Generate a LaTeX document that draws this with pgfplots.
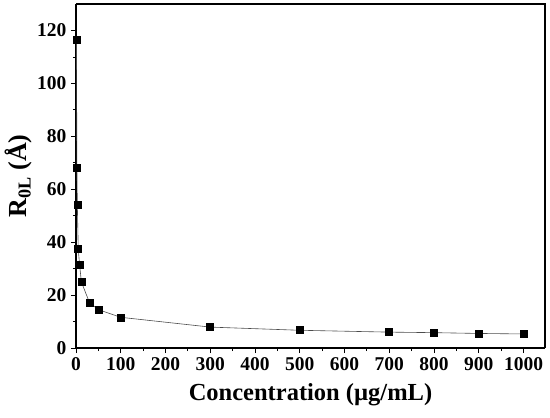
\documentclass[border=0pt]{standalone}
\usepackage{pgfplots}
\pgfplotsset{compat=1.18}
\usepackage{fontspec}
\setmainfont{Liberation Serif}
\newcommand\tickfont{\fontsize{19.5}{19.5}\selectfont\bfseries}
\begin{document}
\begin{tikzpicture}
\begin{axis}[
  scale only axis,
  width=469pt, height=344pt,
  xmin=0, xmax=1048, ymin=0, ymax=130,
  xtick={0,100,...,1000}, ytick={0,20,...,120},
  minor x tick num=1, minor y tick num=1,
  axis x line*=bottom, axis y line*=left,
  tick align=outside,
  major tick length=5pt, minor tick length=3pt,
  tick style={black, line width=0.8pt},
  axis line style={line width=1.2pt},
  xticklabel={\tickfont\pgfmathprintnumber[assume math mode=true,1000 sep={}]{\tick}},
  yticklabel={\tickfont\pgfmathprintnumber[assume math mode=true]{\tick}},
  xticklabel style={yshift=-1pt},
  yticklabel style={xshift=-1pt},
  xlabel={Concentration (µg/mL)},
  ylabel={R$_{\mathbf{0L}}$ (Å)},
  xlabel style={font=\fontsize{24.5}{24.5}\selectfont\bfseries, yshift=-6pt},
  ylabel style={font=\fontsize{26}{26}\selectfont\bfseries, yshift=-2pt},
  clip=false,
]
\addplot[gray!60!black, line width=0.6pt, mark=square*, mark size=3.5pt,
  mark options={black, fill=black}] coordinates {
  (1,116.3) (2,68.1) (3,54) (5,37.3) (8,31.5) (12,25) (30,17.2) (50,14.5)
  (100,11.6) (300,7.9) (500,6.7) (700,6.0) (800,5.8) (900,5.5) (1000,5.3)
};
\draw[line width=1.2pt] (rel axis cs:0,1) -- (rel axis cs:1,1) -- (rel axis cs:1,0);
\end{axis}
\pgfresetboundingbox
\path ([shift={(-76pt,-69pt)}]current axis.south west) rectangle ([shift={(5pt,4pt)}]current axis.north east);
\end{tikzpicture}
\end{document}
